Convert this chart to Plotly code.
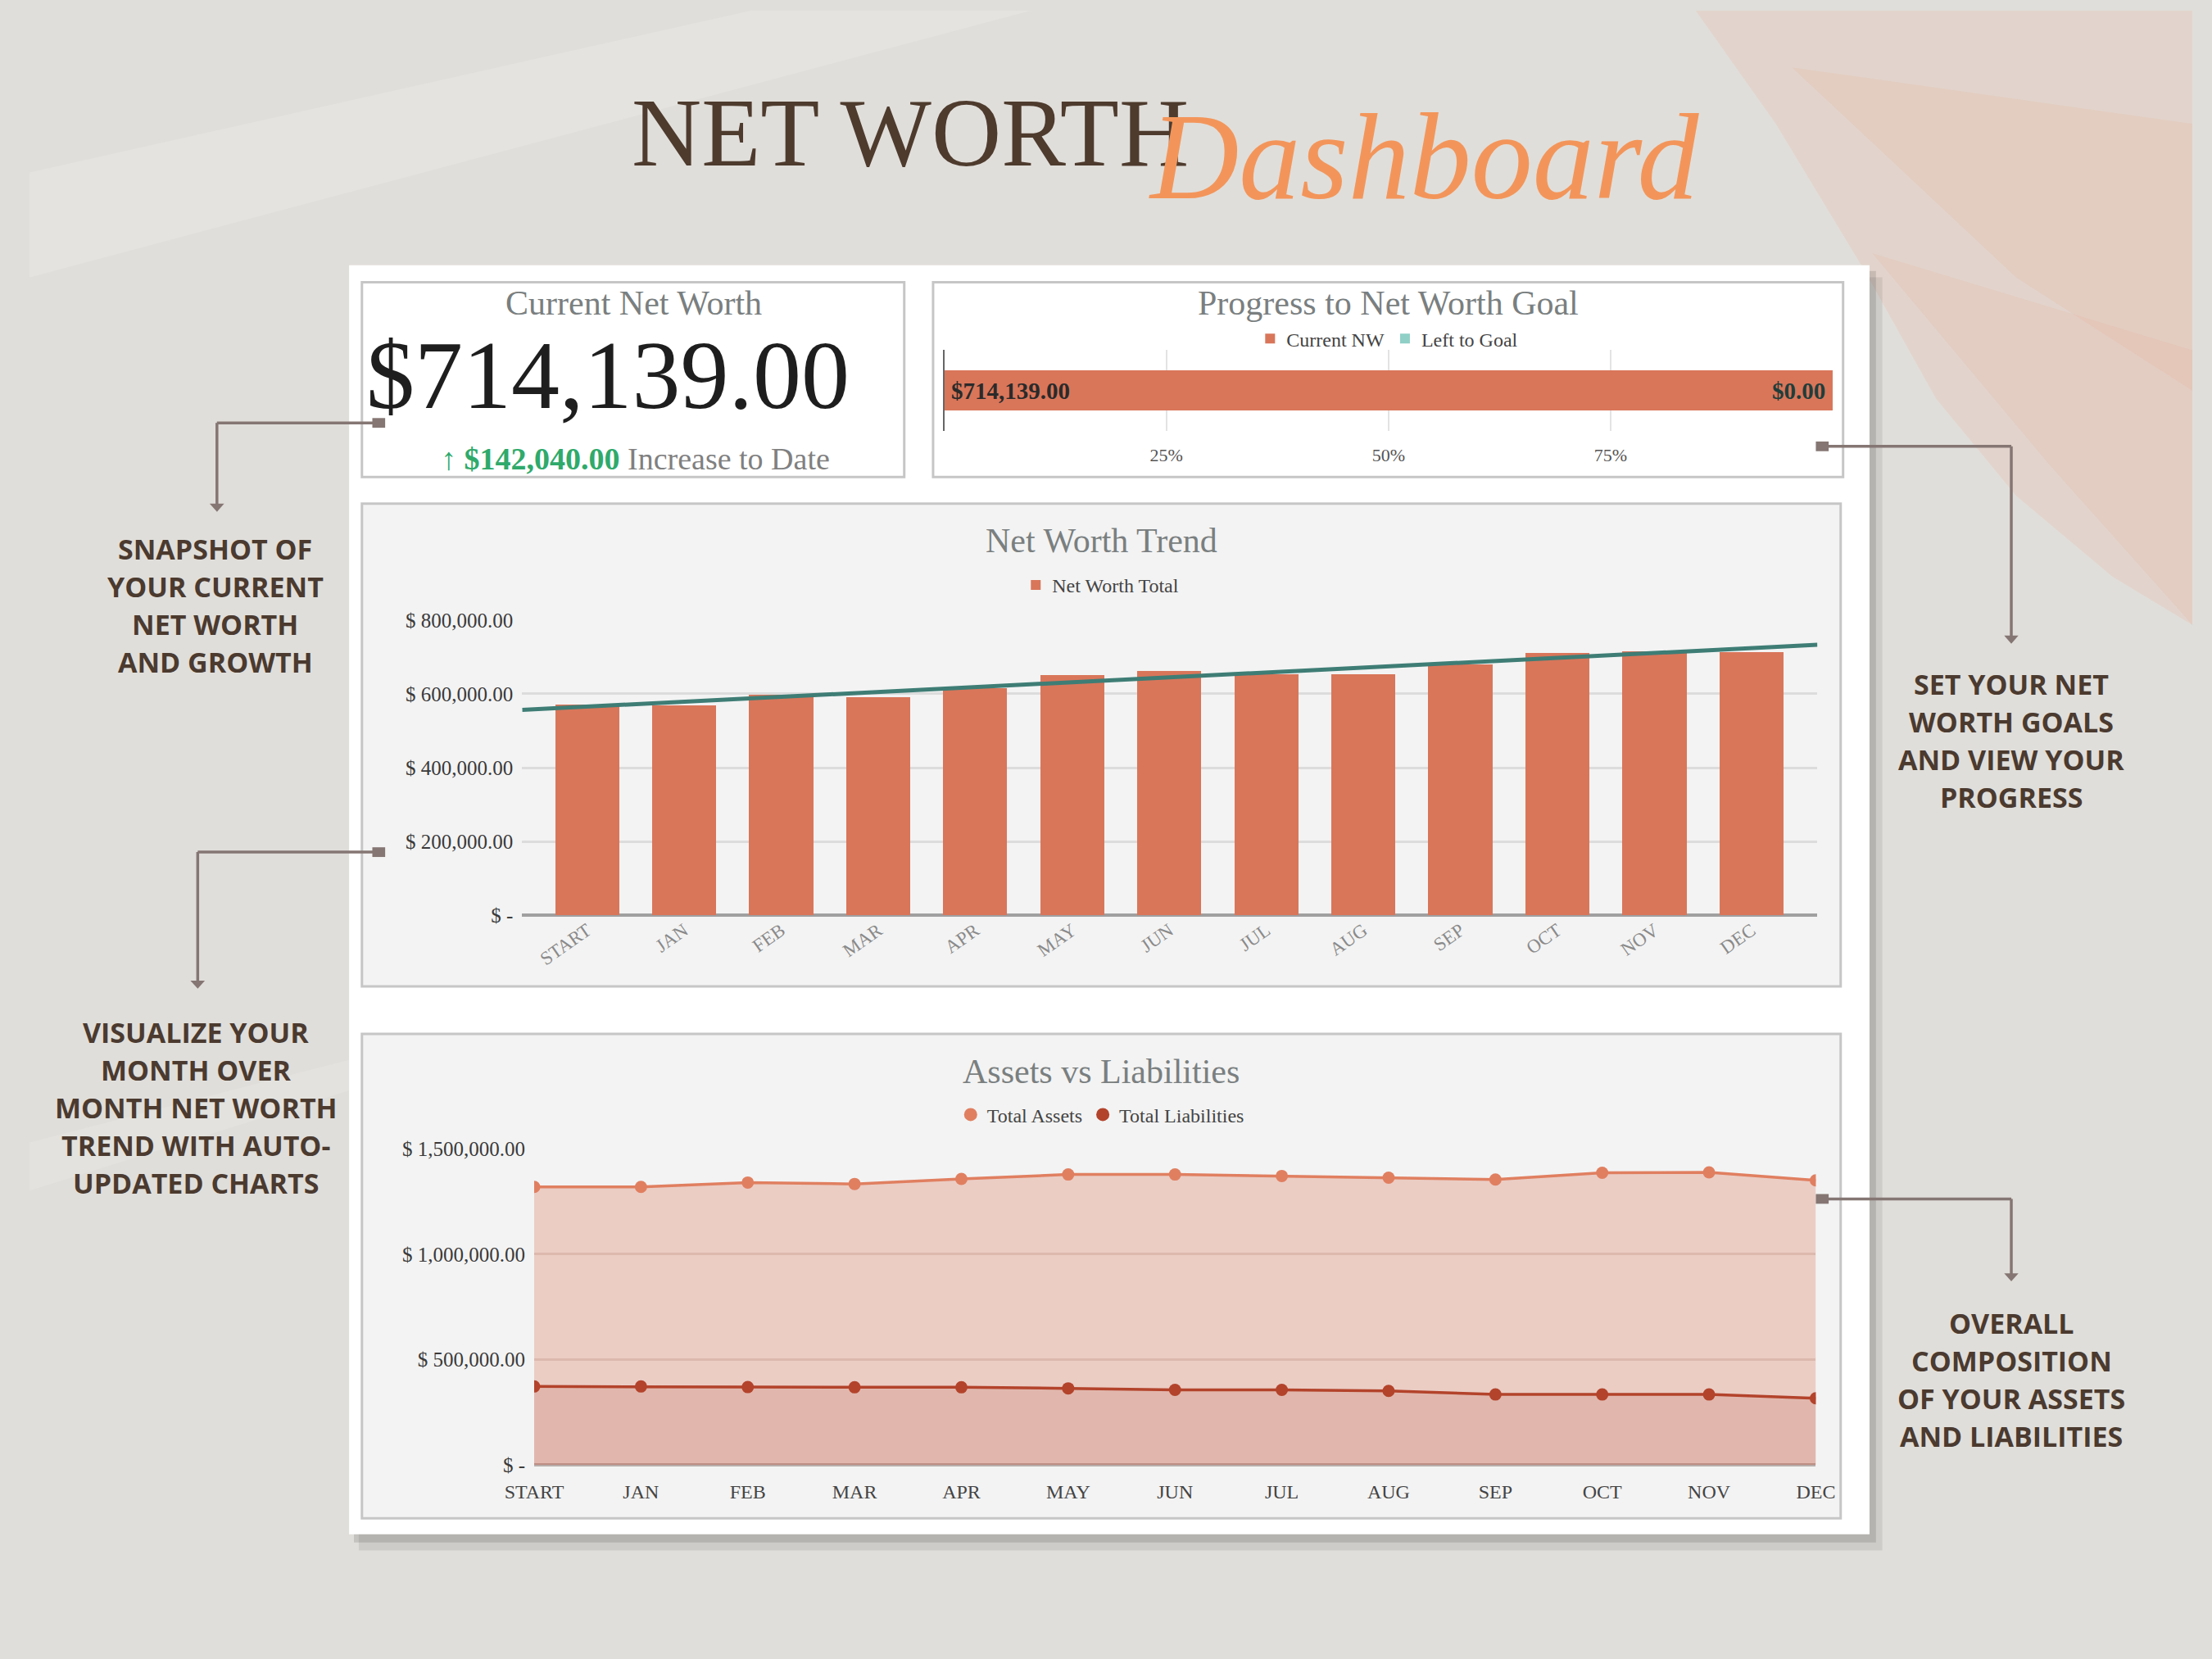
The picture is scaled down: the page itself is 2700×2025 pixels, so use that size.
import numpy as np
import plotly.graph_objects as go

W, H = 2700, 2025
SERIF = "Liberation Serif, DejaVu Serif, serif"
SANS = "Open Sans, Lato, sans-serif"

# ---- data ----
months = ["START", "JAN", "FEB", "MAR", "APR", "MAY", "JUN",
          "JUL", "AUG", "SEP", "OCT", "NOV", "DEC"]
net_worth = [570000, 569000, 597000, 590000, 615000, 651000, 663000,
             653000, 654000, 680000, 712000, 715000, 714139]
total_assets = [1319000, 1319000, 1340000, 1333000, 1357000, 1378000, 1378000,
                1371000, 1363000, 1354000, 1386000, 1388000, 1350000]
total_liabilities = [372000, 372000, 369000, 368000, 368000, 363000, 356000,
                     356000, 351000, 334000, 334000, 334000, 316000]
current_nw = 714139.00
increase_to_date = 142040.00
left_to_goal = 0.00
progress_ticks = [0.25, 0.50, 0.75]
trend_ticks = [0, 200000, 400000, 600000, 800000]
assets_ticks = [0, 500000, 1000000, 1500000]

ORANGE = "#D9765A"
TEAL = "#8FCFC6"
TREND = "#3E7D75"
ASSET = "#E07F60"
LIAB = "#B3432B"
BROWN = "#4B3A2F"
CONN = "#857673"


def px(v):
    return v / W


def py(v):
    return 1 - v / H


def money(v):
    return "$ -" if v == 0 else "$ {:,.2f}".format(v)


def rect(x0, y0, x1, y1, fill, line=None, lw=0, layer="below"):
    return dict(type="rect", xref="paper", yref="paper", layer=layer,
                x0=px(x0), x1=px(x1), y0=py(y1), y1=py(y0), fillcolor=fill,
                line=dict(color=line or "rgba(0,0,0,0)", width=lw))


def poly(points, fill, layer="below"):
    path = "M " + " L ".join("{:.4f},{:.4f}".format(px(a), py(b)) for a, b in points) + " Z"
    return dict(type="path", xref="paper", yref="paper", layer=layer, path=path,
                fillcolor=fill, line=dict(width=0))


def seg(x0, y0, x1, y1):
    return dict(type="line", xref="paper", yref="paper", layer="above",
                x0=px(x0), y0=py(y0), x1=px(x1), y1=py(y1),
                line=dict(color=CONN, width=3.5))


def label(txt, x, y, size, color, family=SERIF, xanchor="center"):
    return dict(xref="paper", yref="paper", x=px(x), y=py(y), xanchor=xanchor,
                yanchor="middle", showarrow=False, text=txt,
                font=dict(family=family, size=size, color=color))


fig = go.Figure()

# progress to goal
goal = current_nw + left_to_goal
fig.add_trace(go.Bar(x=[current_nw / goal], y=[0], orientation="h", width=0.5,
                     name="Current NW", marker=dict(color=ORANGE, line=dict(width=0)),
                     xaxis="x", yaxis="y", legend="legend", hoverinfo="skip"))
fig.add_trace(go.Bar(x=[left_to_goal / goal], y=[0], orientation="h", width=0.5,
                     name="Left to Goal", marker=dict(color=TEAL, line=dict(width=0)),
                     xaxis="x", yaxis="y", legend="legend", hoverinfo="skip"))

# net worth trend
idx = np.arange(len(months))
fig.add_trace(go.Bar(x=idx, y=net_worth, width=0.66, name="Net Worth Total",
                     marker=dict(color=ORANGE, line=dict(width=0)),
                     xaxis="x2", yaxis="y2", legend="legend2"))
trend_range = [-0.67, 12.68]
k, b = np.polyfit(idx, net_worth, 1)
tx = np.array(trend_range)
fig.add_trace(go.Scatter(x=tx, y=k * tx + b, mode="lines", showlegend=False,
                         line=dict(color=TREND, width=5), xaxis="x2", yaxis="y2"))

# assets vs liabilities
fig.add_trace(go.Scatter(x=idx, y=total_assets, mode="lines+markers", fill="tozeroy",
                         fillcolor="rgba(220,120,90,0.30)", showlegend=False,
                         line=dict(color=ASSET, width=3.5), marker=dict(size=15, color=ASSET),
                         xaxis="x3", yaxis="y3"))
fig.add_trace(go.Scatter(x=idx, y=total_liabilities, mode="lines+markers", fill="tozeroy",
                         fillcolor="rgba(170,60,50,0.15)", showlegend=False,
                         line=dict(color=LIAB, width=3.5), marker=dict(size=15, color=LIAB),
                         xaxis="x3", yaxis="y3"))
# legend entries (circles only)
for nm, col in [("Total Assets", ASSET), ("Total Liabilities", LIAB)]:
    fig.add_trace(go.Scatter(x=[None], y=[None], mode="markers", name=nm,
                             marker=dict(size=20, color=col), xaxis="x3", yaxis="y3",
                             legend="legend3"))

tickfont = dict(family=SERIF, size=25, color="#3A3A3A")
ann = []

# bar value labels
ann.append(dict(xref="x", yref="y", x=0.006, y=0, xanchor="left", yanchor="middle",
                showarrow=False, text="<b>${:,.2f}</b>".format(current_nw),
                font=dict(family=SERIF, size=29, color="#2A2A2A")))
ann.append(dict(xref="x", yref="y", x=0.994, y=0, xanchor="right", yanchor="middle",
                showarrow=False, text="<b>${:,.2f}</b>".format(left_to_goal),
                font=dict(family=SERIF, size=29, color="#1F3D3A")))

# card titles
for txt, cx, cy in [("Current Net Worth", 754, 362),
                    ("Progress to Net Worth Goal", 1696, 362),
                    ("Net Worth Trend", 1338, 656),
                    ("Assets vs Liabilities", 1338, 1313)]:
    ann.append(label(txt, cx, cy, 42, "#7A7F80"))

# current net worth big number
ann.append(label("${:,.2f}".format(current_nw), 722, 452, 118, "#1E1E1E"))
ann.append(label("<span style='color:#2FAA6B'><b>↑ ${:,.2f}</b></span> Increase to Date".format(increase_to_date),
                 756, 554, 38, "#808080"))

# page title
ann.append(label("NET WORTH", 750, 152, 118, "#4E3B2E", xanchor="left"))
ann.append(label("<i>Dashboard</i>", 1395, 180, 150, "#F3955A", xanchor="left"))

# side notes
notes = [
    (232, 666, ["SNAPSHOT OF", "YOUR CURRENT", "NET WORTH", "AND GROWTH"]),
    (208, 1264, ["VISUALIZE YOUR", "MONTH OVER", "MONTH NET WORTH", "TREND WITH AUTO-", "UPDATED CHARTS"]),
    (2474, 833, ["SET YOUR NET", "WORTH GOALS", "AND VIEW YOUR", "PROGRESS"]),
    (2474, 1624, ["OVERALL", "COMPOSITION", "OF YOUR ASSETS", "AND LIABILITIES"]),
]
for cx, y0, lines in notes:
    for i, line in enumerate(lines):
        ann.append(label("<b>" + line + "</b>", cx, y0 + i * 46.5, 34, BROWN, family=SANS))

shapes = [
    poly([(0, 200), (900, 0), (1250, 0), (0, 330)], "rgba(255,255,255,0.15)"),
    poly([(0, 1400), (430, 1290), (450, 1320), (0, 1460)], "rgba(255,255,255,0.12)"),
    poly([(2080, 0), (2700, 0), (2700, 760), (2600, 700), (2480, 600), (2380, 480),
          (2290, 320), (2180, 140)], "rgba(236,175,150,0.20)"),
    poly([(2200, 70), (2700, 140), (2700, 470), (2480, 330)], "rgba(236,165,135,0.16)"),
    poly([(2300, 300), (2700, 420), (2700, 760), (2520, 560)], "rgba(236,165,135,0.14)"),
    rect(411, 330, 2313, 1905, "rgba(0,0,0,0.08)"),
    rect(405, 322, 2305, 1895, "rgba(0,0,0,0.12)"),
    rect(399, 315, 2297, 1885, "#FFFFFF"),
    rect(415, 336, 1092, 577, "#FFFFFF", "#C6C6C6", 3),
    rect(1128, 336, 2264, 577, "#FFFFFF", "#C6C6C6", 3),
    rect(415, 610, 2261, 1207, "#F3F3F3", "#C6C6C6", 3),
    rect(415, 1266, 2261, 1865, "#F3F3F3", "#C6C6C6", 3),
]

# connectors: start square, elbow, arrow down
for sx, sy, ex, ey in [(436, 510, 234, 620), (436, 1041, 210, 1210),
                       (2238, 539, 2474, 783), (2238, 1470, 2474, 1572)]:
    shapes.append(seg(sx, sy, ex, sy))
    shapes.append(seg(ex, sy, ex, ey - 8))
    shapes.append(rect(sx - 8, sy - 6, sx + 8, sy + 6, CONN, layer="above"))
    shapes.append(poly([(ex - 9, ey - 10), (ex + 9, ey - 10), (ex, ey)], CONN, layer="above"))

legend_common = dict(orientation="h", xanchor="center", yanchor="middle",
                     traceorder="normal", bgcolor="rgba(0,0,0,0)",
                     font=dict(family=SERIF, size=24, color="#444444"), itemwidth=30)

fig.update_layout(
    width=W, height=H, margin=dict(l=0, r=0, t=0, b=0),
    paper_bgcolor="#E0DEDA", plot_bgcolor="rgba(0,0,0,0)",
    barmode="stack", hovermode=False,
    annotations=ann, shapes=shapes,
    legend=dict(x=px(1696), y=py(406), **legend_common),
    legend2=dict(x=px(1338), y=py(711), **legend_common),
    legend3=dict(x=px(1338), y=py(1366), **legend_common),
    xaxis=dict(domain=[px(1142), px(2251)], range=[0, 1], anchor="y",
               tickvals=progress_ticks + [1.0],
               ticktext=["{:.0f}%".format(t * 100) for t in progress_ticks] + [""],
               showgrid=True, gridcolor="#E3E3E3", gridwidth=2, zeroline=False,
               tickfont=dict(family=SERIF, size=22, color="#555555"), ticklabelstandoff=14),
    yaxis=dict(domain=[py(520), py(420)], range=[-0.5, 0.5], anchor="x",
               showticklabels=False, showgrid=False, zeroline=False,
               showline=True, linecolor="#666666", linewidth=2),
    xaxis2=dict(domain=[px(615), px(2232)], range=trend_range, anchor="y2",
                tickvals=list(idx), ticktext=months, tickangle=-35, showgrid=False,
                zeroline=False, tickfont=dict(family=SERIF, size=23, color="#8A8A8A")),
    yaxis2=dict(domain=[py(1119), py(754)], range=[0, 800000], anchor="x2",
                tickvals=trend_ticks, ticktext=[money(v) for v in trend_ticks],
                gridcolor="#DCDCDC", gridwidth=3, zeroline=True, zerolinecolor="#A0A0A0",
                zerolinewidth=4, tickfont=tickfont, ticklabelstandoff=10),
    xaxis3=dict(domain=[px(630), px(2230)], range=[0, 12], anchor="y3",
                tickvals=list(idx), ticktext=months, showgrid=False, zeroline=False,
                tickfont=dict(family=SERIF, size=24, color="#444444"), ticklabelstandoff=16),
    yaxis3=dict(domain=[py(1799), py(1408)], range=[0, 1500000], anchor="x3",
                tickvals=assets_ticks, ticktext=[money(v) for v in assets_ticks],
                gridcolor="#DDD5D2", gridwidth=3, zeroline=True, zerolinecolor="#B8AEAB",
                zerolinewidth=4, tickfont=tickfont, ticklabelstandoff=10),
)

fig.write_html("out.html", config={"displayModeBar": False},
               post_script="document.body.style.margin='0';")
